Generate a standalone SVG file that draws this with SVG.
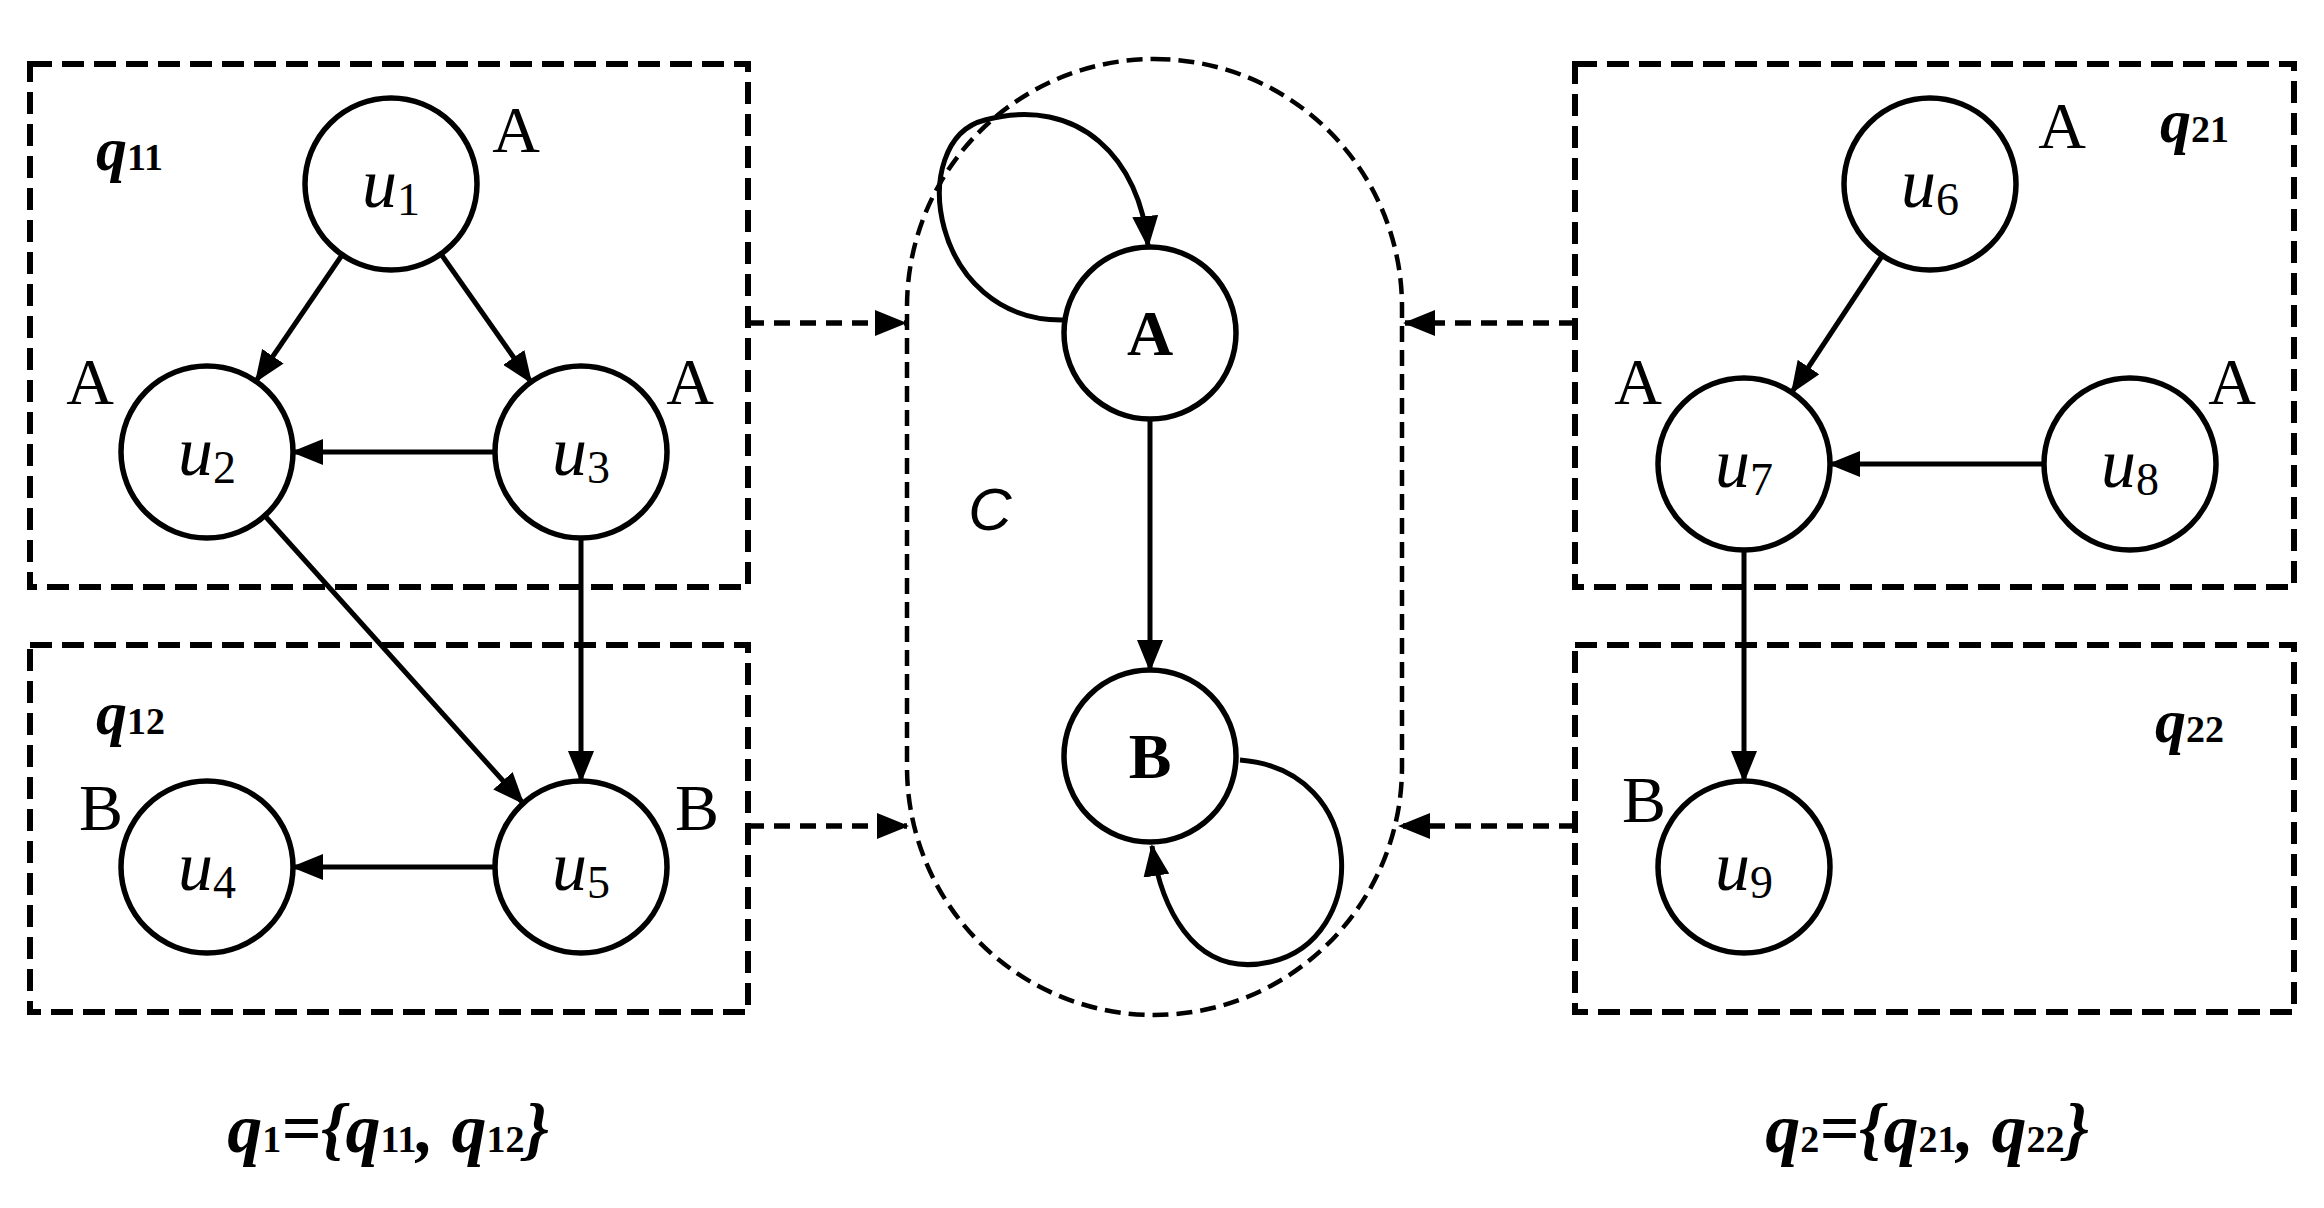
<svg xmlns="http://www.w3.org/2000/svg" width="2324" height="1208" viewBox="0 0 2324 1208">
<style>
.box{fill:none;stroke:#000;stroke-width:6;stroke-dasharray:22 10}
.nd{fill:#fff;stroke:#000;stroke-width:5.5}
.e{fill:none;stroke:#000;stroke-width:5;marker-end:url(#ar)}
.d{fill:none;stroke:#000;stroke-width:5.5;stroke-dasharray:16 10;marker-end:url(#ar)}
.nt{font-family:"Liberation Serif",serif;font-style:italic;font-size:70px;text-anchor:middle}
.nt tspan{font-style:normal;font-size:46px}
.lb{font-family:"Liberation Serif",serif;font-size:66px;text-anchor:middle}
.q{font-family:"Liberation Serif",serif;font-style:italic;font-weight:bold;font-size:62px}
.q tspan.s{font-style:normal;font-size:38px}
.cap{font-size:70px}
.big{font-family:"Liberation Serif",serif;font-weight:bold;font-size:64px;text-anchor:middle}
</style>
<defs>
<marker id="ar" markerUnits="userSpaceOnUse" markerWidth="32" markerHeight="26" refX="30" refY="13" orient="auto"><path d="M0,0 L32,13 L0,26 Z" fill="#000"/></marker>
</defs>
<rect width="2324" height="1208" fill="#fff"/>
<g id="q11box"><rect class="box" x="30" y="64" width="718" height="523"/><text class="q" x="96" y="170">q<tspan class="s">11</tspan></text></g>
<g id="q12box"><rect class="box" x="30" y="645" width="718" height="367"/><text class="q" x="96" y="734">q<tspan class="s">12</tspan></text></g>
<g id="q21box"><rect class="box" x="1575" y="64" width="719" height="523"/><text class="q" x="2160" y="142">q<tspan class="s">21</tspan></text></g>
<g id="q22box"><rect class="box" x="1575" y="645" width="719" height="367"/><text class="q" x="2155" y="742">q<tspan class="s">22</tspan></text></g>
<g id="C"><rect class="box" x="907" y="59" width="495" height="956" rx="248" ry="248" style="stroke-width:4.5;stroke-dasharray:16 8"/><text x="990" y="530" font-family="Liberation Sans,sans-serif" font-style="italic" font-size="60" text-anchor="middle">C</text></g>
<g id="edges">
<path class="e" d="M342,255 L256,381"/>
<path class="e" d="M441,254 L531,382"/>
<path class="e" d="M495,452 L293,452"/>
<path class="e" d="M581,538 L581,781"/>
<path class="e" d="M265,516 L523,803"/>
<path class="e" d="M495,867 L293,867"/>
<path class="e" d="M1882,256 L1792,392"/>
<path class="e" d="M2044,464 L1830,464"/>
<path class="e" d="M1744,550 L1744,781"/>
<path class="e" d="M1150,419 L1150,670"/>
<path class="e" d="M1064,320 C930,322 905,140 985,120 C1080,95 1140,160 1148,246"/>
<path class="e" d="M1240,760 C1370,770 1370,940 1270,962 C1190,980 1160,900 1152,846"/>
<path class="d" d="M748,323 L905,323"/>
<path class="d" d="M748,826 L907,826"/>
<path class="d" d="M1575,323 L1405,323"/>
<path class="d" d="M1575,826 L1400,826"/>
</g>
<g id="u1"><circle class="nd" cx="391" cy="184" r="86"/><text class="nt" x="391" y="207">u<tspan dy="8">1</tspan></text><text class="lb" x="516" y="152">A</text></g>
<g id="u2"><circle class="nd" cx="207" cy="452" r="86"/><text class="nt" x="207" y="475">u<tspan dy="8">2</tspan></text><text class="lb" x="90" y="404">A</text></g>
<g id="u3"><circle class="nd" cx="581" cy="452" r="86"/><text class="nt" x="581" y="475">u<tspan dy="8">3</tspan></text><text class="lb" x="690" y="404">A</text></g>
<g id="u4"><circle class="nd" cx="207" cy="867" r="86"/><text class="nt" x="207" y="890">u<tspan dy="8">4</tspan></text><text class="lb" x="101" y="830">B</text></g>
<g id="u5"><circle class="nd" cx="581" cy="867" r="86"/><text class="nt" x="581" y="890">u<tspan dy="8">5</tspan></text><text class="lb" x="697" y="830">B</text></g>
<g id="u6"><circle class="nd" cx="1930" cy="184" r="86"/><text class="nt" x="1930" y="207">u<tspan dy="8">6</tspan></text><text class="lb" x="2062" y="148">A</text></g>
<g id="u7"><circle class="nd" cx="1744" cy="464" r="86"/><text class="nt" x="1744" y="487">u<tspan dy="8">7</tspan></text><text class="lb" x="1638" y="404">A</text></g>
<g id="u8"><circle class="nd" cx="2130" cy="464" r="86"/><text class="nt" x="2130" y="487">u<tspan dy="8">8</tspan></text><text class="lb" x="2232" y="404">A</text></g>
<g id="u9"><circle class="nd" cx="1744" cy="867" r="86"/><text class="nt" x="1744" y="890">u<tspan dy="8">9</tspan></text><text class="lb" x="1644" y="822">B</text></g>
<g id="A"><circle class="nd" cx="1150" cy="333" r="86"/><text class="big" x="1150" y="355">A</text></g>
<g id="B"><circle class="nd" cx="1150" cy="756" r="86"/><text class="big" x="1150" y="778">B</text></g>
<g id="captions">
<text class="q cap" x="388" y="1152" text-anchor="middle">q<tspan class="s">1</tspan>={q<tspan class="s">11</tspan>, q<tspan class="s">12</tspan>}</text>
<text class="q cap" x="1927" y="1152" text-anchor="middle">q<tspan class="s">2</tspan>={q<tspan class="s">21</tspan>, q<tspan class="s">22</tspan>}</text>
</g>
</svg>
